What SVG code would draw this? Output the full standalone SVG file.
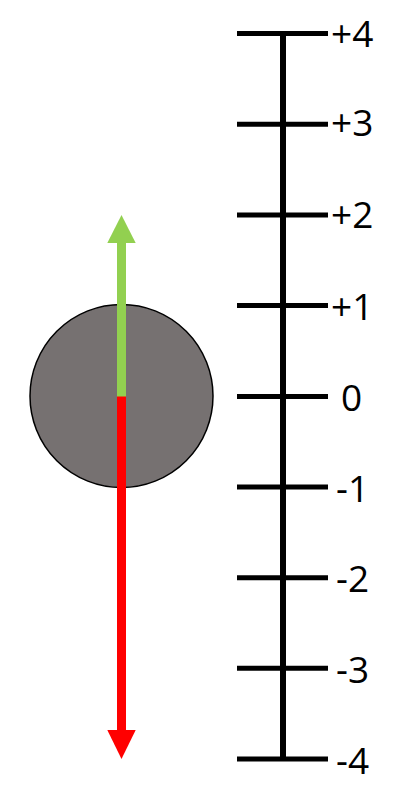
<svg xmlns="http://www.w3.org/2000/svg" width="400" height="800" viewBox="0 0 400 800">
  <style>
    .tick { stroke: #000; stroke-width: 5; }
    .lbl { font-family: "Open Sans", "Liberation Sans", sans-serif; font-size: 37px; fill: #000; }
  </style>
  <rect width="400" height="800" fill="#fff"/>
  <g id="scale">
    <line x1="283" y1="31" x2="283" y2="761" stroke="#000" stroke-width="6"/>
    <line class="tick" x1="237" y1="33.5" x2="328" y2="33.5"/>
    <line class="tick" x1="237" y1="124.3" x2="328" y2="124.3"/>
    <line class="tick" x1="237" y1="215" x2="328" y2="215"/>
    <line class="tick" x1="237" y1="305.6" x2="328" y2="305.6"/>
    <line class="tick" x1="237" y1="396.5" x2="328" y2="396.5"/>
    <line class="tick" x1="237" y1="487" x2="328" y2="487"/>
    <line class="tick" x1="237" y1="577.8" x2="328" y2="577.8"/>
    <line class="tick" x1="237" y1="668.3" x2="328" y2="668.3"/>
    <line class="tick" x1="237" y1="759" x2="328" y2="759"/>
    <text class="lbl" x="331" y="47">+4</text>
    <text class="lbl" x="331" y="136">+3</text>
    <text class="lbl" x="331" y="228">+2</text>
    <text class="lbl" x="331" y="320">+1</text>
    <text class="lbl" x="341" y="411">0</text>
    <text class="lbl" x="336" y="501.5">-1</text>
    <text class="lbl" x="336" y="592">-2</text>
    <text class="lbl" x="336" y="682.5">-3</text>
    <text class="lbl" x="336" y="774">-4</text>
  </g>
  <g id="ball">
    <circle cx="121.5" cy="396" r="91.5" fill="#767171" stroke="#000" stroke-width="1.5"/>
  </g>
  <g id="connectors">
    <line x1="121.5" y1="397" x2="121.5" y2="241" stroke="#92d050" stroke-width="9"/>
    <polygon points="107.3,243 135.7,243 121.5,215" fill="#92d050"/>
    <line x1="121.5" y1="396.5" x2="121.5" y2="732" stroke="#ff0000" stroke-width="9"/>
    <polygon points="107.3,730 135.7,730 121.5,759" fill="#ff0000"/>
  </g>
</svg>
